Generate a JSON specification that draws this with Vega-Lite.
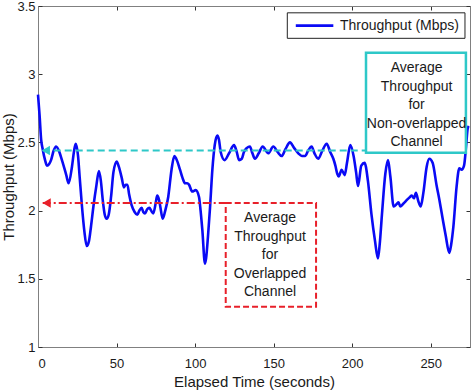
{
  "$schema": "https://vega.github.io/schema/vega-lite/v6.json",
  "width": 432,
  "height": 341,
  "autosize": {"type": "none"},
  "padding": {"left": 38, "top": 6, "right": 4, "bottom": 44},
  "config": {
    "font": "Liberation Sans",
    "view": {"stroke": "#808080", "strokeWidth": 1},
    "axis": {
      "grid": false,
      "domainColor": "#808080",
      "tickColor": "#333333",
      "tickSize": -4,
      "labelFontSize": 13,
      "labelColor": "#1a1a1a",
      "labelPadding": 7,
      "labelOverlap": false,
      "titleFontSize": 15,
      "titleFontWeight": "normal",
      "titleColor": "#1a1a1a"
    }
  },
  "datasets": {
    "throughput": [
      {"t": 0, "v": 2.85}, {"t": 1, "v": 2.7}, {"t": 2, "v": 2.52}, {"t": 3, "v": 2.45}, {"t": 4.5, "v": 2.37},
      {"t": 5.7, "v": 2.33}, {"t": 7, "v": 2.34}, {"t": 8.3, "v": 2.37}, {"t": 10, "v": 2.44}, {"t": 11.5, "v": 2.47},
      {"t": 13.6, "v": 2.43}, {"t": 15, "v": 2.38}, {"t": 16.8, "v": 2.31}, {"t": 18, "v": 2.26}, {"t": 19.5, "v": 2.2},
      {"t": 21.6, "v": 2.32}, {"t": 23, "v": 2.44}, {"t": 24, "v": 2.49}, {"t": 25.5, "v": 2.4}, {"t": 26.5, "v": 2.25},
      {"t": 28, "v": 2.03}, {"t": 29.5, "v": 1.85}, {"t": 31, "v": 1.74}, {"t": 32.5, "v": 1.78}, {"t": 33.7, "v": 1.88},
      {"t": 35.5, "v": 2.05}, {"t": 37, "v": 2.17}, {"t": 38.8, "v": 2.29}, {"t": 40, "v": 2.22}, {"t": 41.2, "v": 2.08},
      {"t": 42.5, "v": 1.97}, {"t": 43.7, "v": 1.94}, {"t": 45, "v": 1.97}, {"t": 46.5, "v": 2.1}, {"t": 48, "v": 2.28},
      {"t": 50.1, "v": 2.36}, {"t": 51.5, "v": 2.32}, {"t": 53.3, "v": 2.24}, {"t": 54.7, "v": 2.17}, {"t": 55.8, "v": 2.19},
      {"t": 56.9, "v": 2.19}, {"t": 58, "v": 2.12}, {"t": 59.6, "v": 2.04}, {"t": 61.5, "v": 1.99}, {"t": 63.2, "v": 1.97},
      {"t": 64.5, "v": 2.0}, {"t": 66, "v": 2.02}, {"t": 67, "v": 1.99}, {"t": 68.1, "v": 1.98}, {"t": 69.5, "v": 2.01},
      {"t": 70.9, "v": 2.02}, {"t": 72, "v": 2.0}, {"t": 73.4, "v": 1.98}, {"t": 75, "v": 2.06}, {"t": 75.9, "v": 2.11},
      {"t": 77, "v": 2.08}, {"t": 77.7, "v": 2.04}, {"t": 79.4, "v": 1.94}, {"t": 81, "v": 2.0}, {"t": 82.9, "v": 2.1},
      {"t": 85, "v": 2.3}, {"t": 86.8, "v": 2.4}, {"t": 88, "v": 2.38}, {"t": 90.4, "v": 2.3}, {"t": 92, "v": 2.24},
      {"t": 93.6, "v": 2.2}, {"t": 95, "v": 2.2}, {"t": 96.1, "v": 2.19}, {"t": 98.2, "v": 2.14}, {"t": 100.4, "v": 2.15},
      {"t": 102.5, "v": 2.1}, {"t": 103.5, "v": 2.0}, {"t": 104.6, "v": 1.86}, {"t": 106.3, "v": 1.61}, {"t": 107, "v": 1.65},
      {"t": 108.2, "v": 1.81}, {"t": 109.5, "v": 2.02}, {"t": 111, "v": 2.3}, {"t": 112.5, "v": 2.48}, {"t": 114.1, "v": 2.55},
      {"t": 115.2, "v": 2.52}, {"t": 116.3, "v": 2.43}, {"t": 118.8, "v": 2.37}, {"t": 121.6, "v": 2.42}, {"t": 124.8, "v": 2.48},
      {"t": 126.5, "v": 2.43}, {"t": 128, "v": 2.37}, {"t": 129.7, "v": 2.38}, {"t": 131.1, "v": 2.43}, {"t": 133, "v": 2.46},
      {"t": 134.9, "v": 2.47}, {"t": 136.5, "v": 2.42}, {"t": 138.1, "v": 2.38}, {"t": 140.5, "v": 2.42}, {"t": 143, "v": 2.47},
      {"t": 146.6, "v": 2.42}, {"t": 149.8, "v": 2.47}, {"t": 152.5, "v": 2.43}, {"t": 155.1, "v": 2.4}, {"t": 157.5, "v": 2.45},
      {"t": 160.4, "v": 2.5}, {"t": 163, "v": 2.46}, {"t": 165.7, "v": 2.42}, {"t": 168, "v": 2.4}, {"t": 170, "v": 2.4},
      {"t": 172, "v": 2.44}, {"t": 174.2, "v": 2.47}, {"t": 176, "v": 2.42}, {"t": 178.4, "v": 2.38}, {"t": 181, "v": 2.44},
      {"t": 183.8, "v": 2.49}, {"t": 186, "v": 2.43}, {"t": 188, "v": 2.38}, {"t": 189.3, "v": 2.33}, {"t": 190.5, "v": 2.27},
      {"t": 191.4, "v": 2.25}, {"t": 193.3, "v": 2.3}, {"t": 195.2, "v": 2.26}, {"t": 196.7, "v": 2.35}, {"t": 198.8, "v": 2.48},
      {"t": 200.9, "v": 2.4}, {"t": 202.5, "v": 2.28}, {"t": 203.7, "v": 2.18}, {"t": 205.8, "v": 2.33}, {"t": 207.9, "v": 2.35},
      {"t": 210, "v": 2.22}, {"t": 212.2, "v": 1.98}, {"t": 214.5, "v": 1.78}, {"t": 216.4, "v": 1.65}, {"t": 217.5, "v": 1.75},
      {"t": 219, "v": 1.98}, {"t": 221.1, "v": 2.27}, {"t": 222.8, "v": 2.37}, {"t": 224.3, "v": 2.25}, {"t": 226.4, "v": 2.03},
      {"t": 228.5, "v": 2.05}, {"t": 229.5, "v": 2.06}, {"t": 230.6, "v": 2.03}, {"t": 232.5, "v": 2.05}, {"t": 235, "v": 2.08},
      {"t": 236.8, "v": 2.1}, {"t": 237.9, "v": 2.11}, {"t": 239.3, "v": 2.09}, {"t": 240.6, "v": 2.13}, {"t": 242.1, "v": 2.07},
      {"t": 243.6, "v": 2.03}, {"t": 245.3, "v": 2.13}, {"t": 247.4, "v": 2.32}, {"t": 249.1, "v": 2.38}, {"t": 251.2, "v": 2.35},
      {"t": 253.8, "v": 2.18}, {"t": 255.5, "v": 2.08}, {"t": 257, "v": 1.98}, {"t": 259.5, "v": 1.82}, {"t": 261.8, "v": 1.69},
      {"t": 263, "v": 1.75}, {"t": 264.4, "v": 1.88}, {"t": 266.5, "v": 2.18}, {"t": 268.2, "v": 2.31}, {"t": 269.7, "v": 2.3},
      {"t": 271.2, "v": 2.33}, {"t": 272.5, "v": 2.47}, {"t": 273.5, "v": 2.6}, {"t": 274.2, "v": 2.62}
    ]
  },
  "resolve": {"axis": {"x": "independent", "y": "independent"}},
  "layer": [
    {
      "data": {"name": "throughput"},
      "mark": {"type": "line", "interpolate": "monotone", "color": "#0a0af5", "strokeWidth": 2.6},
      "encoding": {
        "x": {"field": "t", "type": "quantitative", "scale": {"domain": [0, 275], "nice": false, "zero": false},
              "axis": {"title": "Elapsed Time (seconds)", "values": [0, 50, 100, 150, 200, 250], "labelPadding": 14, "titlePadding": 4}},
        "y": {"field": "v", "type": "quantitative", "scale": {"domain": [1, 3.5], "nice": false, "zero": false},
              "axis": {"title": "Throughput (Mbps)", "values": [1, 1.5, 2, 2.5, 3, 3.5], "format": "~g", "titlePadding": 0}}
      }
    },
    {
      "data": {"values": [{"x": 3, "x2": 208.4, "y": 2.44}]},
      "mark": {"type": "rule", "color": "#2ec8c8", "strokeWidth": 2, "strokeDash": [7, 4]},
      "encoding": {
        "x": {"field": "x", "type": "quantitative", "axis": {"orient": "top", "labels": false, "title": null, "values": [0, 50, 100, 150, 200, 250]}},
        "x2": {"field": "x2"},
        "y": {"field": "y", "type": "quantitative", "axis": {"orient": "right", "labels": false, "title": null, "values": [1, 1.5, 2, 2.5, 3, 3.5]}}
      }
    },
    {
      "data": {"values": [{"x": 3, "x2": 119.5, "y": 2.055}]},
      "mark": {"type": "rule", "color": "#e8202a", "strokeWidth": 2, "strokeDash": [8, 3, 2, 3]},
      "encoding": {
        "x": {"field": "x", "type": "quantitative", "axis": null},
        "x2": {"field": "x2"},
        "y": {"field": "y", "type": "quantitative", "axis": null}
      }
    },
    {
      "data": {"values": [{"x": 5, "y": 2.44, "c": "non"}, {"x": 5.5, "y": 2.055, "c": "ovl"}]},
      "mark": {"type": "point", "shape": "triangle-left", "filled": true, "size": 90, "opacity": 1},
      "encoding": {
        "x": {"field": "x", "type": "quantitative", "axis": null},
        "y": {"field": "y", "type": "quantitative", "axis": null},
        "color": {"field": "c", "type": "nominal", "scale": {"domain": ["non", "ovl"], "range": ["#2ec8c8", "#e8202a"]}, "legend": null}
      }
    },
    {
      "data": {"values": [{"x": 208.8, "x2": 272.4, "y": 3.158, "y2": 2.425}]},
      "mark": {"type": "rect", "fill": "white", "stroke": "#2ec8c8", "strokeWidth": 2.5},
      "encoding": {
        "x": {"field": "x", "type": "quantitative", "axis": null},
        "x2": {"field": "x2"},
        "y": {"field": "y", "type": "quantitative", "axis": null},
        "y2": {"field": "y2"}
      }
    },
    {
      "data": {"values": [{"x": 119.5, "x2": 177, "y": 2.055, "y2": 1.295}]},
      "mark": {"type": "rect", "fill": "white", "stroke": "#e8202a", "strokeWidth": 2, "strokeDash": [6, 3]},
      "encoding": {
        "x": {"field": "x", "type": "quantitative", "axis": null},
        "x2": {"field": "x2"},
        "y": {"field": "y", "type": "quantitative", "axis": null},
        "y2": {"field": "y2"}
      }
    },
    {
      "data": {"values": [{"x": 158.7, "x2": 271.8, "y": 3.45, "y2": 3.263}]},
      "mark": {"type": "rect", "fill": "white", "stroke": "#222222", "strokeWidth": 1},
      "encoding": {
        "x": {"field": "x", "type": "quantitative", "axis": null},
        "x2": {"field": "x2"},
        "y": {"field": "y", "type": "quantitative", "axis": null},
        "y2": {"field": "y2"}
      }
    },
    {
      "data": {"values": [{"x": 164.1, "x2": 188, "y": 3.356}]},
      "mark": {"type": "rule", "color": "#0a0af5", "strokeWidth": 2.6},
      "encoding": {
        "x": {"field": "x", "type": "quantitative", "axis": null},
        "x2": {"field": "x2"},
        "y": {"field": "y", "type": "quantitative", "axis": null}
      }
    },
    {
      "data": {"values": [{"x": 192.2, "y": 3.356, "label": "Throughput (Mbps)"}]},
      "mark": {"type": "text", "align": "left", "baseline": "middle", "fontSize": 14, "color": "#1a1a1a"},
      "encoding": {
        "x": {"field": "x", "type": "quantitative", "axis": null},
        "y": {"field": "y", "type": "quantitative", "axis": null},
        "text": {"field": "label"}
      }
    },
    {
      "data": {"values": [
        {"x": 241, "y": 3.045, "label": "Average\nThroughput\nfor\nNon-overlapped\nChannel"},
        {"x": 147.7, "y": 1.944, "label": "Average\nThroughput\nfor\nOverlapped\nChannel"}
      ]},
      "mark": {"type": "text", "align": "center", "baseline": "middle", "fontSize": 14, "lineBreak": "\n", "lineHeight": 18.5, "color": "#1a1a1a"},
      "encoding": {
        "x": {"field": "x", "type": "quantitative", "axis": null},
        "y": {"field": "y", "type": "quantitative", "axis": null},
        "text": {"field": "label"}
      }
    }
  ]
}
